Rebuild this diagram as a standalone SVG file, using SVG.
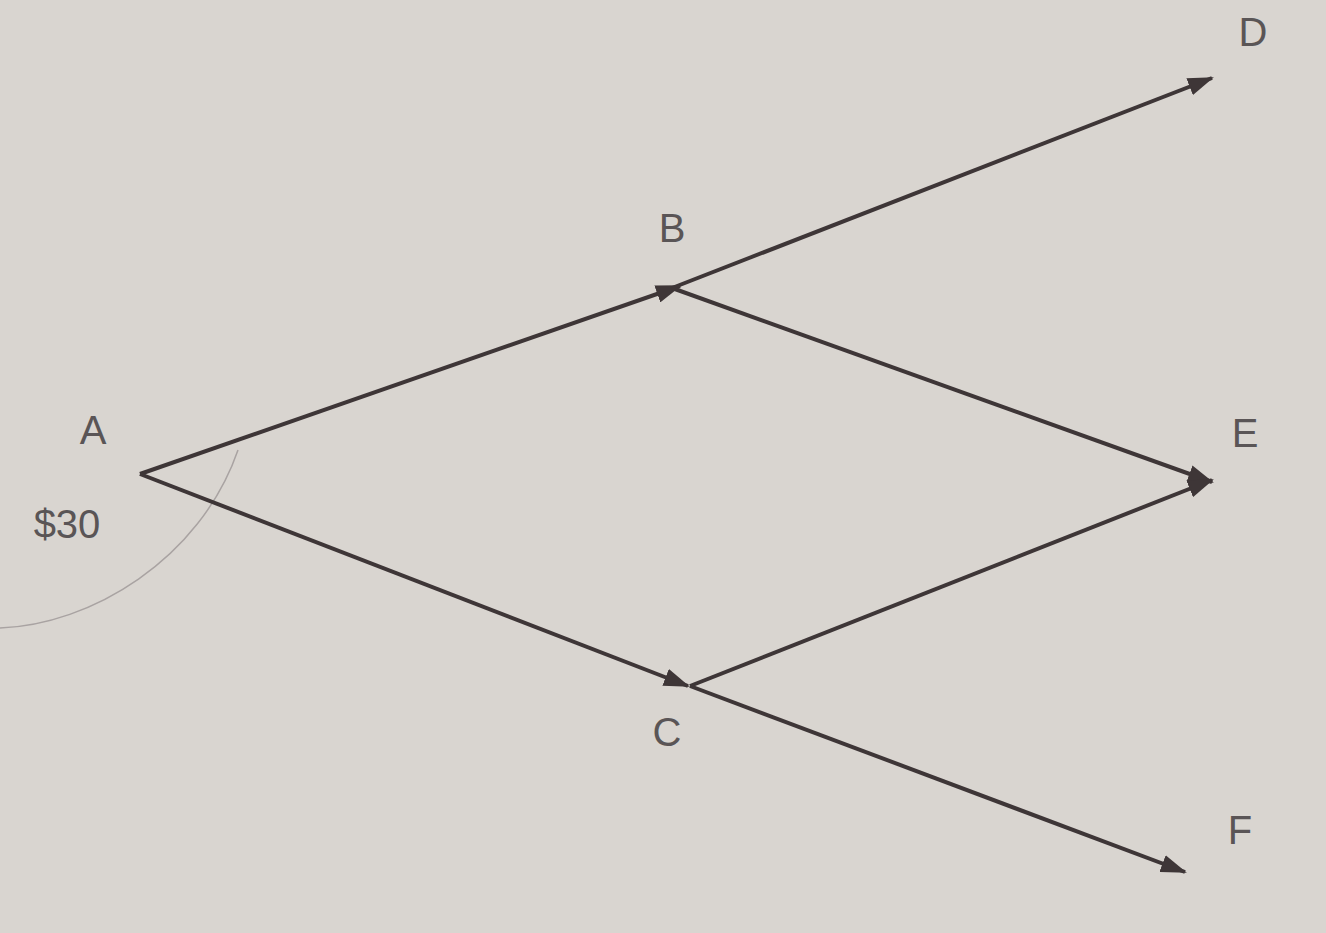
<svg xmlns="http://www.w3.org/2000/svg" width="1326" height="933" viewBox="0 0 1326 933">
<defs>
<marker id="arr" markerUnits="userSpaceOnUse" markerWidth="26" markerHeight="18" refX="24" refY="9" orient="auto">
<path d="M0,0 L26,9 L0,18 Z" fill="#3e3637"/>
</marker>
<style>
.edge{stroke:#3e3637;stroke-width:4;fill:none;marker-end:url(#arr)}
.lbl{font-family:"Liberation Sans",Arial,sans-serif;font-size:40px;fill:#5a5556;text-anchor:middle}
</style>
</defs>
<rect width="1326" height="933" fill="#d9d5d0"/>
<path d="M0,628 C90,625 200,560 238,450" stroke="#a9a3a2" stroke-width="1.5" fill="none"/>
<g id="connectors">
<path class="edge" d="M140,474 L680,286"/>
<path class="edge" d="M140,474 L688,686"/>
<path class="edge" d="M672,288 L1212,78"/>
<path class="edge" d="M672,288 L1212,482"/>
<path class="edge" d="M690,686 L1212,480"/>
<path class="edge" d="M690,686 L1185,872"/>
</g>
<g id="node-A"><text class="lbl" x="93" y="444">A</text></g>
<g id="node-A-value"><text class="lbl" x="67" y="538">$30</text></g>
<g id="node-B"><text class="lbl" x="672" y="242">B</text></g>
<g id="node-C"><text class="lbl" x="667" y="746">C</text></g>
<g id="node-D"><text class="lbl" x="1253" y="46">D</text></g>
<g id="node-E"><text class="lbl" x="1245" y="447">E</text></g>
<g id="node-F"><text class="lbl" x="1240" y="844">F</text></g>
</svg>
